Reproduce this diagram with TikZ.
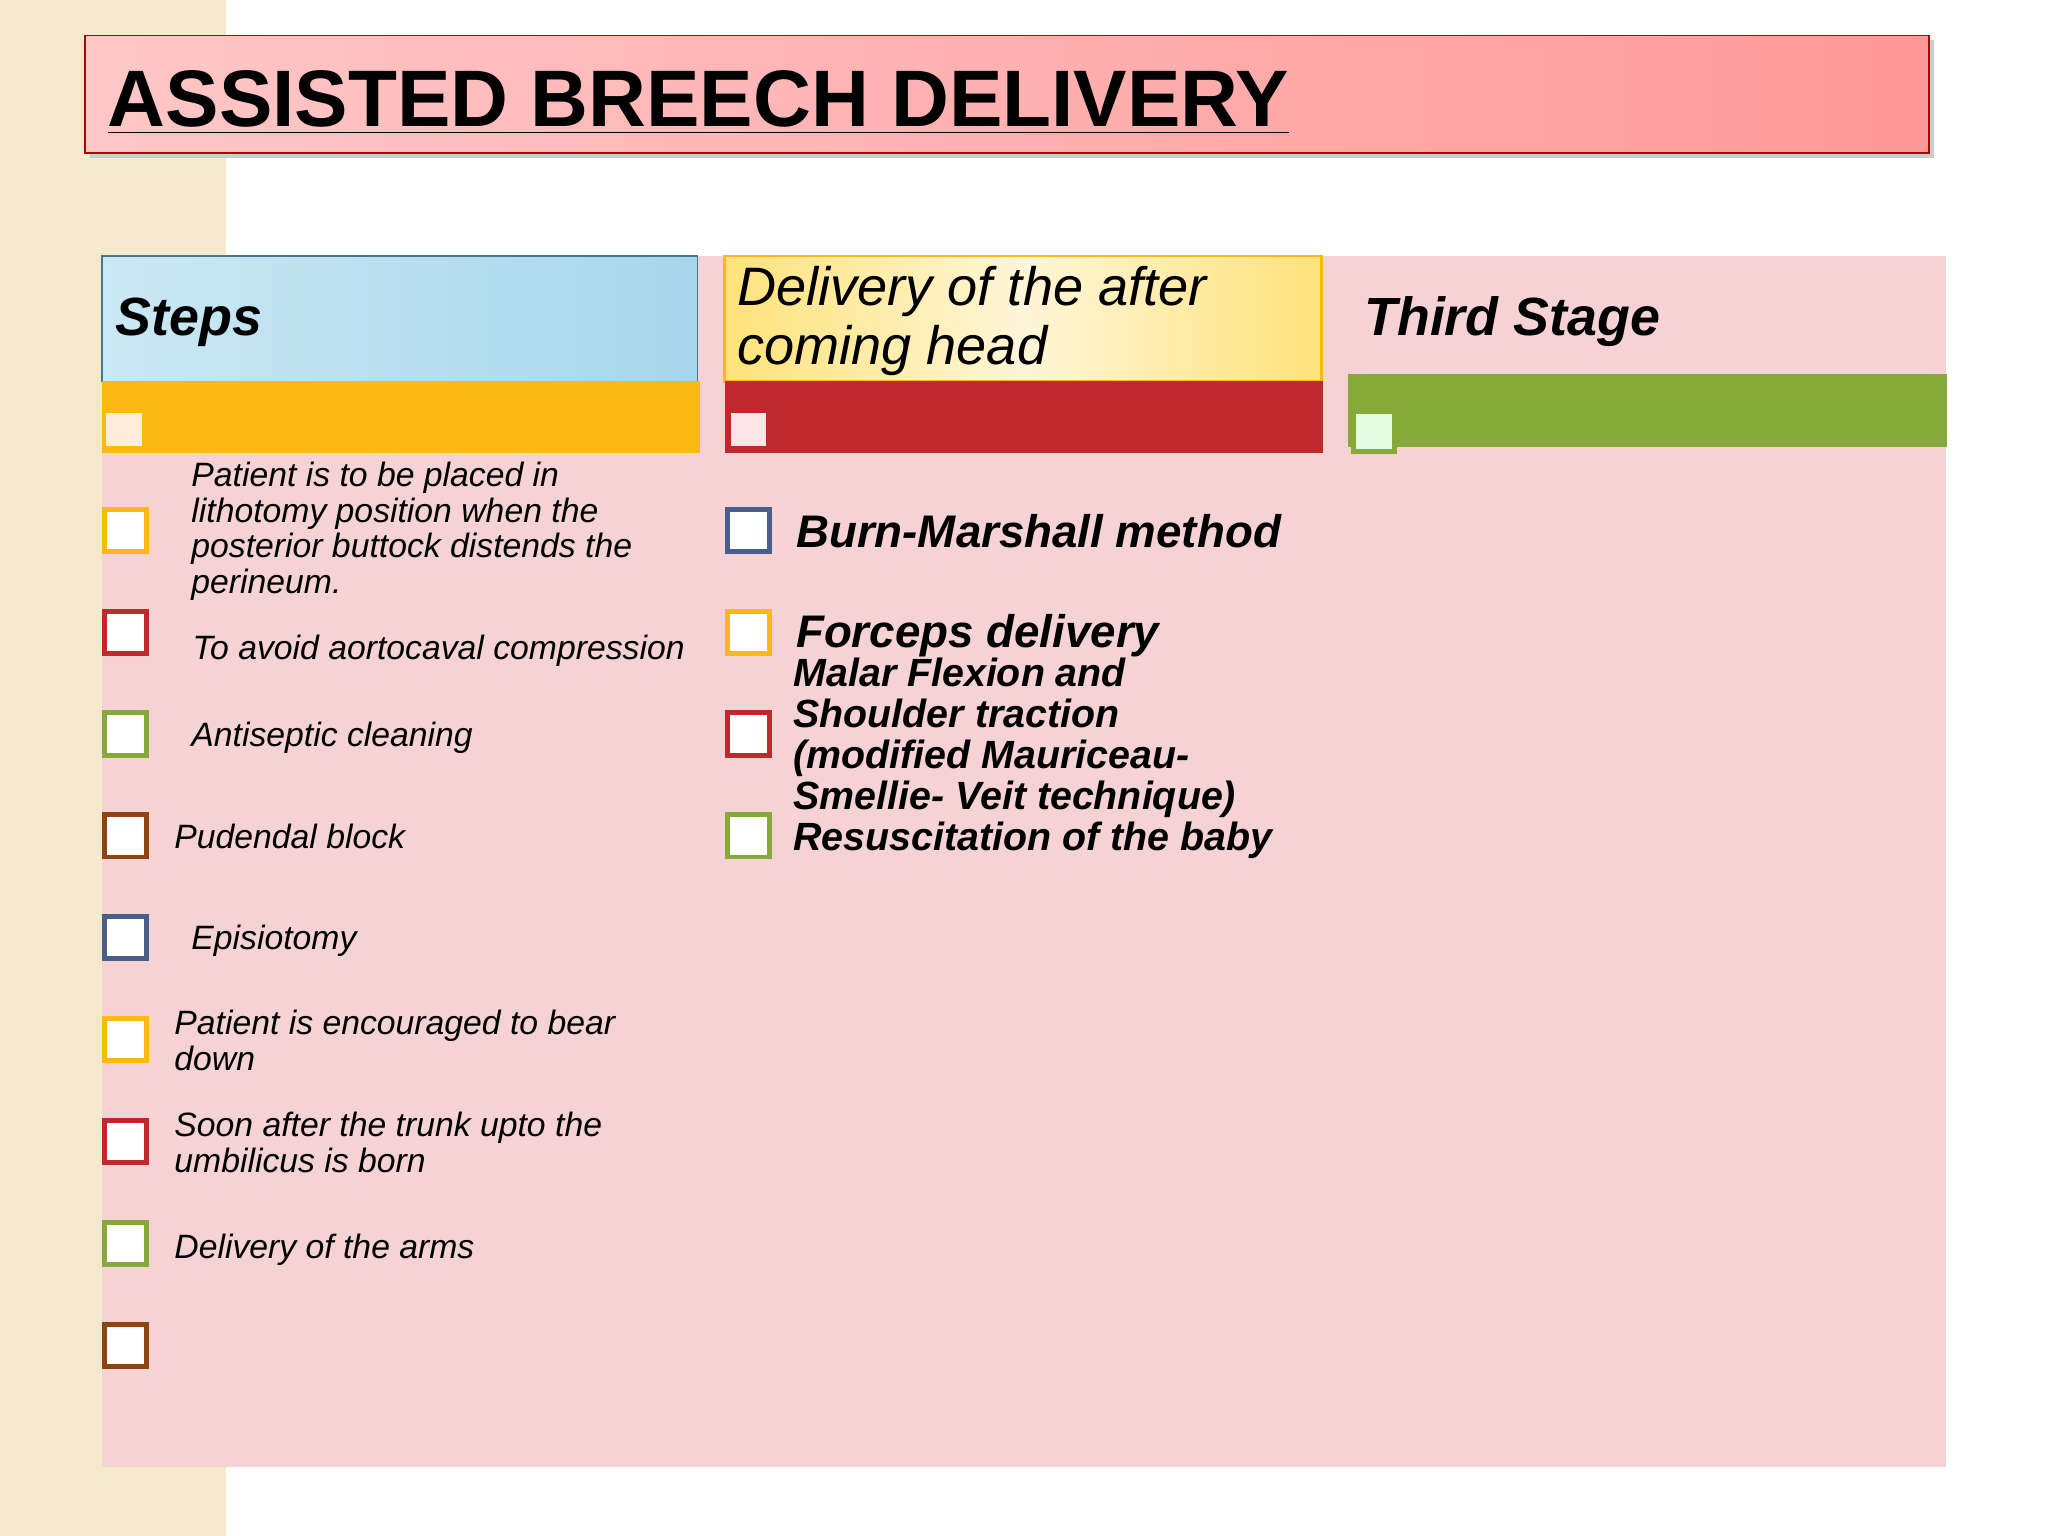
\documentclass[tikz,border=0pt]{standalone}
\usepackage{fontspec}
\setmainfont{Liberation Sans}
\usetikzlibrary{positioning}
\definecolor{strip}{HTML}{F4E9CC}
\definecolor{panel}{HTML}{F5D3D5}
\definecolor{cbOrange}{HTML}{FDB813}
\definecolor{cbRed}{HTML}{C0282E}
\definecolor{cbGreen}{HTML}{86A93A}
\definecolor{cbBrown}{HTML}{8E4410}
\definecolor{cbBlue}{HTML}{4A5E8C}
\definecolor{hdBlueL}{HTML}{CBE8F4}
\definecolor{hdBlueR}{HTML}{A6D6EC}
\definecolor{hdYelL}{HTML}{FFE27A}
\definecolor{hdYelM}{HTML}{FFF6D8}
\tikzset{
	box/.style={draw=#1,line width=1.4pt,fill=white,minimum size=12pt,inner sep=0pt},
	item/.style={anchor=north west,inner sep=0pt,align=left,font=\fontsize{9.6}{10.2}\selectfont\itshape},
	itemB/.style={anchor=north west,inner sep=0pt,align=left,font=\fontsize{11.2}{11.7}\selectfont\bfseries\itshape},
	head/.style={anchor=base west,inner sep=0pt,font=\fontsize{15.3}{17}\selectfont\bfseries\itshape}
}
\begin{document}
\begin{tikzpicture}[x=0.013061cm,y=-0.013061cm]
\useasboundingbox (0,0) rectangle (1568,1176);
\fill[white] (0,0) rectangle (1568,1176);
\fill[strip] (0,0) rectangle (173,1176);

% title
\fill[gray!40] (69,31) rectangle (1481,121);
\shade[left color=red!22!white,right color=red!40!white,draw=red!70!black] (65,27) rectangle (1477,117);
\node[anchor=base west,inner sep=0pt,font=\fontsize{22.8}{26}\selectfont\bfseries] (title) at (82,97) {\underline{ASSISTED BREECH DELIVERY}};

% panel
\fill[panel] (78,196) rectangle (1490,1123);

% headers
\shade[left color=hdBlueL,right color=hdBlueR,draw=cyan!50!black] (78,196) rectangle (534,292);
\node[head] (steps) at (88,257) {Steps};
\fill[cbOrange] (78,292) rectangle (536,347);
\shade[left color=hdYelL,right color=hdYelL,middle color=hdYelM,draw=cbOrange,line width=0.8pt] (555,196) rectangle (1012,292);
\node[anchor=north west,inner sep=0pt,align=left,font=\fontsize{15.4}{16.8}\selectfont\itshape] (after) at (564,203) {Delivery of the after\\coming head};
\fill[cbRed] (555,292) rectangle (1013,347);
\node[head] (third) at (1044,257) {Third Stage};
\fill[cbGreen] (1032,286) rectangle (1491,342);

\fill[white!85!orange,draw=cbOrange,line width=1pt] (80,315) rectangle (110,343);
\fill[white!90!red,draw=cbRed,line width=1pt] (558,315) rectangle (588,343);
\fill[white!90!green,draw=cbGreen,line width=1.4pt] (1036,315) rectangle (1068,346);

% left checkboxes
\foreach \c [count=\i] in {cbOrange,cbRed,cbGreen,cbBrown,cbBlue,cbOrange,cbRed,cbGreen,cbBrown}
	\node[box=\c] (l\i) at (96,{406+78*(\i-1)}) {};
% middle checkboxes
\foreach \c [count=\i] in {cbBlue,cbOrange,cbRed,cbGreen}
	\node[box=\c] (m\i) at (573,{406+78*(\i-1)}) {};

% left items
\node[item] (t1) at (146,353) {Patient is to be placed in\\lithotomy position when the\\posterior buttock distends the\\perineum.};
\node[item] (t2) at (147,486) {To avoid aortocaval compression};
\node[item] (t3) at (146,552) {Antiseptic cleaning};
\node[item] (t4) at (133,630) {Pudendal block};
\node[item] (t5) at (146,708) {Episiotomy};
\node[item] (t6) at (133,773) {Patient is encouraged to bear\\down};
\node[item] (t7) at (133,851) {Soon after the trunk upto the\\umbilicus is born};
\node[item] (t8) at (133,944) {Delivery of the arms};

% middle items
\node[anchor=base west,inner sep=0pt,font=\fontsize{13}{15}\selectfont\bfseries\itshape] (u1) at (609,419) {Burn-Marshall method};
\node[anchor=base west,inner sep=0pt,font=\fontsize{13}{15}\selectfont\bfseries\itshape] (u2) at (609,496) {Forceps delivery};
\node[itemB] (u3) at (607,503) {Malar Flexion and\\Shoulder traction\\(modified Mauriceau-\\Smellie- Veit technique)\\Resuscitation of the baby};
\end{tikzpicture}
\end{document}
